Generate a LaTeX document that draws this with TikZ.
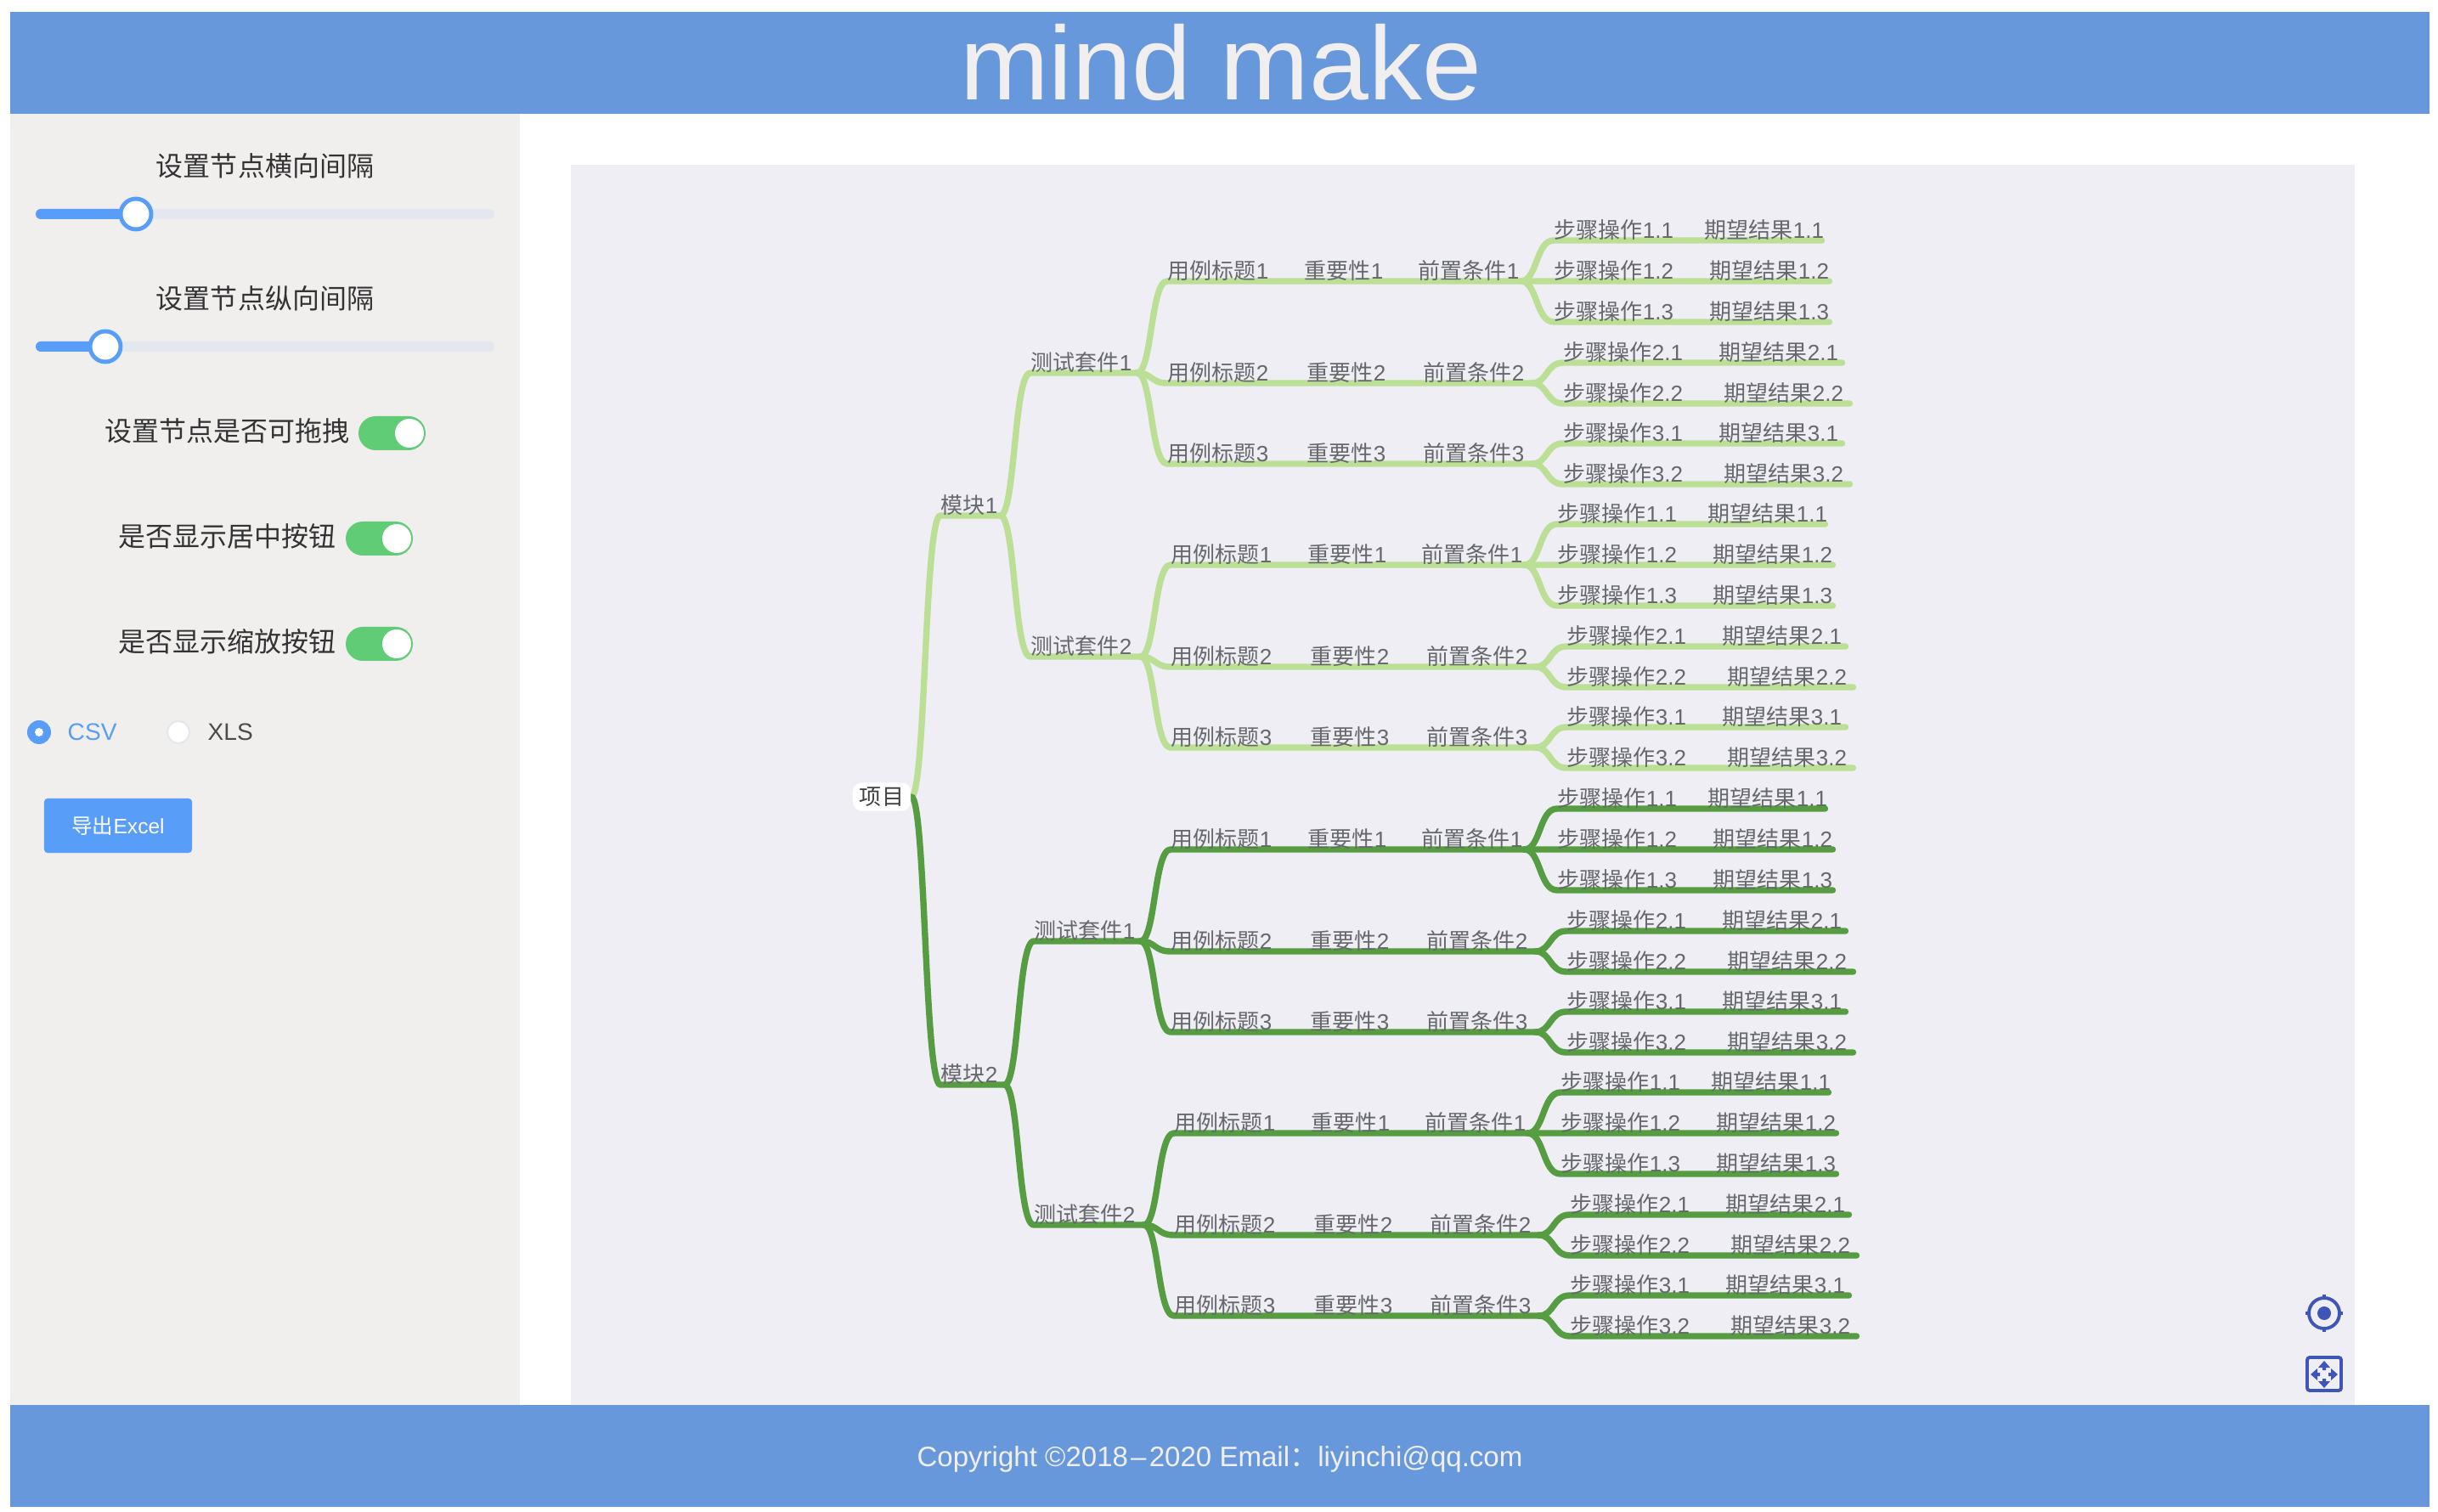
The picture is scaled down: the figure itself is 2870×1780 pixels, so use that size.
\documentclass[tikz,border=0pt]{standalone}
\usepackage{fontspec}
\usepackage{xcolor}
\setmainfont{Liberation Sans}
\newfontfamily\cjk{Noto Sans CJK SC}
\usetikzlibrary{calc,backgrounds}

\definecolor{barblue}{HTML}{6798DB}
\definecolor{sidegray}{HTML}{F1EEEE}
\definecolor{stagegray}{HTML}{EEEEF4}
\definecolor{titlewhite}{HTML}{F0EEEE}
\definecolor{widgetblue}{HTML}{589DF8}
\definecolor{trackgray}{HTML}{E4E7ED}
\definecolor{switchgreen}{HTML}{61CC76}
\definecolor{lite}{HTML}{BBDF95}
\definecolor{deep}{HTML}{559D40}
\definecolor{mmgray}{HTML}{66686C}
\definecolor{iconblue}{HTML}{3D56B8}

\newcommand{\zh}[1]{{\cjk #1}}

\tikzset{
    sidetext/.style={inner sep=0pt, text=black!80, font=\fontsize{9.1}{11}\selectfont},
    radiotext/.style={inner sep=0pt, anchor=west, font=\fontsize{8}{10}\selectfont},
    mmnode/.style={inner sep=0pt, anchor=south west, text width=#1*0.28453pt, align=left,
        text depth=0.4pt, text=mmgray, font=\fontsize{7.4}{9}\selectfont},
    mmroot/.style={fill=white, rounded corners=0.1cm, inner sep=0pt, minimum width=0.68cm,
        minimum height=0.33cm, text=black!75, font=\fontsize{7.4}{9}\selectfont},
    mmline/.style={line width=2.1pt, line cap=round},
    mmcurve/.style={to path={.. controls ($(\tikztostart)!0.5!(\tikztotarget |- \tikztostart)$)
        and ($(\tikztostart |- \tikztotarget)!0.45!(\tikztotarget)$) .. (\tikztotarget)}}
}

\begin{document}
\begin{tikzpicture}[x=0.01cm,y=-0.01cm]
    \useasboundingbox (0,0) rectangle (2870,1780);

    % Panels
    \begin{scope}[on background layer]
        \fill[white] (0,0) rectangle (2870,1780);
        \fill[sidegray] (12,134) rectangle (612,1654);
        \fill[stagegray] (672,194) rectangle (2772,1654);
        \fill[barblue] (12,14) rectangle (2860,134);
        \fill[barblue] (12,1654) rectangle (2860,1774);
    \end{scope}
    \node[anchor=base, inner sep=0pt, xscale=1.02, text=titlewhite, font=\fontsize{35}{40}\selectfont] (title) at (1437,118) {mind make};
    \node[inner sep=0pt, text=titlewhite, font=\fontsize{9.4}{11}\selectfont] (footer) at (1436,1718) {Copyright ©2018\kern.9pt–\kern.9pt2020 Email\zh{：}liyinchi@qq.com};

    % Sliders
    \foreach \n/\y/\kx/\lab in {a/252/160/设置节点横向间隔,b/408/124/设置节点纵向间隔} {
        \node[sidetext] (slider\n) at (312,\y-57) {\zh{\lab}};
        \fill[trackgray, rounded corners=0.06cm] (42,\y-6) rectangle (582,\y+6);
        \fill[widgetblue, rounded corners=0.06cm] (42,\y-6) rectangle (\kx,\y+6);
        \draw[widgetblue, line width=1.4pt, fill=white] (\kx,\y) circle [radius=18];
    }

    % Switches
    \foreach \n/\y/\tx/\sx/\lab in {a/510/412/422/设置节点是否可拖拽,b/634/396/407/是否显示居中按钮,c/758/396/407/是否显示缩放按钮} {
        \node[sidetext, anchor=east] (switch\n) at (\tx,\y-3) {\zh{\lab}};
        \fill[switchgreen, rounded corners=0.2cm] (\sx,\y-20) rectangle (\sx+79,\y+20);
        \fill[white] (\sx+60,\y) circle [radius=17];
    }

    % Radio buttons and button
    \fill[widgetblue] (46,862) circle [radius=14];
    \fill[white] (46,862) circle [radius=5];
    \node[radiotext, text=widgetblue] (csv) at (79,862) {CSV};
    \draw[trackgray, line width=0.6pt, fill=white] (210,862) circle [radius=13];
    \node[radiotext, text=black!70] (xls) at (244,862) {XLS};
    \node[fill=widgetblue, rounded corners=0.04cm, inner sep=0pt, minimum width=1.74cm, minimum height=0.64cm,
        text=white, font=\fontsize{7}{9}\selectfont] (export) at (139,972) {\zh{导出}Excel};

    % Icons
    \draw[iconblue, line width=1.1pt] (2736,1546) circle [radius=18];
    \fill[iconblue] (2736,1546) circle [radius=8];
    \foreach \a in {0,90,180,270} {
        \draw[iconblue, line width=1.1pt, rotate around={\a:(2736,1546)}] (2736,1524) -- (2736,1530);
        \fill[iconblue, rotate around={\a:(2736,1618)}] (2736,1602) -- (2743,1610) -- (2738,1610) -- (2738,1613)
            -- (2734,1613) -- (2734,1610) -- (2729,1610) -- cycle;
    }
    \draw[iconblue, line width=1.1pt, rounded corners=0.03cm] (2716,1598) rectangle (2756,1637);

    % Root and modules
    \node[mmroot] (root) at (1038,938) {\zh{项目}};
    \node[mmnode=69] (m1) at (1107,607) {\zh{模块}1};
    \node[mmnode=74] (m2) at (1107,1277) {\zh{模块}2};
    \begin{scope}[on background layer]
        \draw[mmline, lite, mmcurve] (root.east) to (m1.south west) -- (m1.south east);
        \draw[mmline, deep, mmcurve] (root.east) to (m2.south west) -- (m2.south east);
    \end{scope}

    % Suites
    \foreach \cl/\sid/\sy/\sx/\sw/\cx/\up/\sn in {lite/a/439/1213/124/1374/m1/1, lite/b/773/1213/128/1378/m1/2,
            deep/c/1108/1217/124/1378/m2/1, deep/d/1442/1217/128/1382/m2/2} {
        \node[mmnode=\sw] (\sid) at (\sx,\sy) {\zh{测试套件}\sn};
        \begin{scope}[on background layer]
            \draw[mmline, \cl, mmcurve] (\up.south east) to (\sid.south west) -- (\sid.south east);
        \end{scope}

        % Cases
        \foreach \i/\dy in {1/-108,2/12,3/107} {
            \pgfmathsetmacro\cy{\sy+\dy}
            \pgfmathsetmacro\cw{\i==1 ? 116 : 121}
            \pgfmathsetmacro\ix{\cx+(\i==1 ? 161 : 164)}
            \pgfmathsetmacro\iw{\i==1 ? 89 : 95}
            \pgfmathsetmacro\px{\cx+(\i==1 ? 295 : 301)}
            \pgfmathsetmacro\pw{\i==1 ? 120 : 127}
            \pgfmathsetmacro\tx{\cx+(\i==1 ? 455 : 466)}
            \node[mmnode=\cw] (\sid c\i) at (\cx,\cy) {\zh{用例标题}\i};
            \node[mmnode=\iw] (\sid i\i) at (\ix,\cy) {\zh{重要性}\i};
            \node[mmnode=\pw] (\sid p\i) at (\px,\cy) {\zh{前置条件}\i};
            \begin{scope}[on background layer]
                \draw[mmline, \cl, mmcurve] (\sid.south east) to (\sid c\i.south west) -- (\sid c\i.south east)
                    -- (\sid i\i.south west) -- (\sid i\i.south east) -- (\sid p\i.south west) -- (\sid p\i.south east);
            \end{scope}

            % Steps and results
            \ifnum\i=1 \def\steplist{1/-48,2/0,3/48}\else \def\steplist{1/-24,2/24}\fi
            \foreach \j/\ey in \steplist {
                \pgfmathsetmacro\ty{\cy+\ey}
                \pgfmathsetmacro\tw{(\i==1 ? 134 : 140)+(\j==1 ? 0 : 5)}
                \pgfmathsetmacro\rx{\tx+\tw+(\j==1 ? 43 : 44)}
                \pgfmathsetmacro\rw{(\i==1 ? 134 : 141)+(\j==1 ? 0 : 3)}
                \node[mmnode=\tw] (\sid t\i\j) at (\tx,\ty) {\zh{步骤操作}\i.\j};
                \node[mmnode=\rw] (\sid r\i\j) at (\rx,\ty) {\zh{期望结果}\i.\j};
                \begin{scope}[on background layer]
                    \draw[mmline, \cl, mmcurve] (\sid p\i.south east) to (\sid t\i\j.south west) -- (\sid t\i\j.south east)
                        -- (\sid r\i\j.south west) -- (\sid r\i\j.south east) -- ++(3,0);
                \end{scope}
            }
        }
    }
\end{tikzpicture}
\end{document}
